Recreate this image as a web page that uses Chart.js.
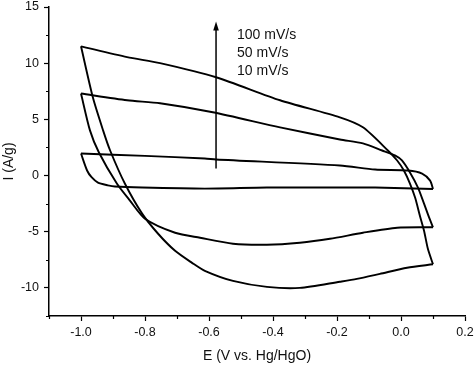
<!DOCTYPE html>
<html>
<head>
<meta charset="utf-8">
<script src="https://cdn.jsdelivr.net/npm/chart.js@4/dist/chart.umd.min.js"></script>
<style>
  html, body { margin: 0; padding: 0; background: #fff; }
  #wrap { width: 474px; height: 366px; }
</style>
</head>
<body>
<div id="wrap"><canvas id="c" width="474" height="366"></canvas></div>
<script>
// ---- Data ----
// 100 mV/s loop
const potUp100  = [-1.0, -0.856, -0.753, -0.578, -0.378, -0.191, -0.119, -0.041, -0.012, 0.009, 0.028, 0.044, 0.059, 0.072, 0.084, 0.1];
const curUp100  = [11.5, 10.54, 10.0, 8.75, 6.70, 5.18, 4.29, 2.23, 1.34, 0.45, -0.71, -1.96, -3.57, -4.91, -6.52, -7.9];
const potDown100 = [0.1, 0.019, -0.066, -0.138, -0.191, -0.316, -0.419, -0.525, -0.613, -0.653, -0.706, -0.759, -0.809, -0.863, -0.909, -0.931, -0.963, -1.0];
const curDown100 = [-7.9, -8.21, -8.75, -9.2, -9.45, -10.0, -9.91, -9.38, -8.48, -7.77, -6.7, -5.18, -3.39, -0.71, 2.23, 4.02, 6.96, 11.5];
// 50 mV/s loop
const potUp50  = [-1.0, -0.856, -0.753, -0.588, -0.378, -0.191, -0.119, -0.059, -0.019, 0.003, 0.028, 0.053, 0.072, 0.088, 0.1];
const curUp50  = [7.3, 6.70, 6.43, 5.63, 4.29, 3.21, 2.86, 2.23, 1.79, 1.34, 0.27, -1.07, -2.5, -3.75, -4.6];
const potDown50 = [0.1, -0.012, -0.119, -0.222, -0.316, -0.419, -0.525, -0.628, -0.706, -0.8, -0.847, -0.888, -0.944, -0.972, -1.0];
const curDown50 = [-4.6, -4.64, -5.09, -5.63, -5.98, -6.16, -6.07, -5.54, -5.09, -3.84, -2.23, -0.71, 2.05, 4.02, 7.3];
// 10 mV/s loop
const potUp10  = [-1.0, -0.8, -0.613, -0.578, -0.191, -0.081, 0.022, 0.066, 0.091, 0.1];
const curUp10  = [1.96, 1.75, 1.52, 1.43, 0.89, 0.54, 0.45, 0.18, -0.45, -1.2];
const potDown10 = [0.1, -0.081, -0.191, -0.419, -0.613, -0.809, -0.894, -0.916, -0.947, -0.967, -0.981, -1.0];
const curDown10 = [-1.2, -1.07, -1.07, -1.07, -1.16, -1.07, -0.98, -0.87, -0.63, -0.15, 0.45, 1.96];

const xTicks = [-1.0, -0.8, -0.6, -0.4, -0.2, 0.0, 0.2];
const yTicks = [-10, -5, 0, 5, 10, 15];
const xMinorTicks = [-1.1, -0.9, -0.7, -0.5, -0.3, -0.1, 0.1];
const yMinorTicks = [-12.5, -7.5, -2.5, 2.5, 7.5, 12.5];
const rateLabels = ['100 mV/s', '50 mV/s', '10 mV/s'];
const xTitle = 'E (V vs. Hg/HgO)';
const yTitle = 'I (A/g)';

// ---- Build datasets ----
function pts(xs, ys) { return xs.map((x, i) => ({ x: x, y: ys[i] })); }
const branches = [
  [potUp100, curUp100], [potDown100, curDown100],
  [potUp50, curUp50], [potDown50, curDown50],
  [potUp10, curUp10], [potDown10, curDown10]
];
const datasets = branches.map(b => ({
  data: pts(b[0], b[1]),
  showLine: true,
  borderColor: '#000',
  borderWidth: 1.9,
  pointRadius: 0,
  tension: 0.25,
  fill: false
}));

const FONT = "'Liberation Sans', Arial, sans-serif";

const decorPlugin = {
  id: 'decor',
  afterDraw(chart) {
    const ctx = chart.ctx;
    const xs = chart.scales.x, ys = chart.scales.y;
    ctx.save();
    ctx.strokeStyle = '#000';
    ctx.lineWidth = 1.2;
    // minor ticks
    ctx.beginPath();
    xMinorTicks.forEach(v => {
      const px = Math.round(xs.getPixelForValue(v)) + 0.5;
      ctx.moveTo(px, ys.bottom);
      ctx.lineTo(px, ys.bottom + 3);
    });
    yMinorTicks.forEach(v => {
      const py = Math.round(ys.getPixelForValue(v)) + 0.5;
      ctx.moveTo(xs.left, py);
      ctx.lineTo(xs.left - 3, py);
    });
    ctx.stroke();
    // arrow
    const ax = xs.getPixelForValue(-0.578);
    const ay0 = ys.getPixelForValue(0.62);
    const ay1 = ys.getPixelForValue(13.7);
    ctx.lineWidth = 1.5;
    ctx.beginPath();
    ctx.moveTo(ax, ay0);
    ctx.lineTo(ax, ay1 + 6);
    ctx.stroke();
    ctx.fillStyle = '#000';
    ctx.beginPath();
    ctx.moveTo(ax, ay1);
    ctx.lineTo(ax - 2.8, ay1 + 9);
    ctx.lineTo(ax + 2.8, ay1 + 9);
    ctx.closePath();
    ctx.fill();
    // rate labels
    ctx.font = '14px ' + FONT;
    ctx.fillStyle = '#111';
    ctx.textAlign = 'left';
    ctx.textBaseline = 'alphabetic';
    const lx = ax + 21;
    rateLabels.forEach((t, i) => {
      ctx.fillText(t, lx, 39 + i * 18);
    });
    ctx.restore();
  }
};

function noPad(s) { s.paddingTop = 0; s.paddingBottom = 0; s.paddingLeft = 0; s.paddingRight = 0; }

new Chart(document.getElementById('c'), {
  type: 'scatter',
  data: { datasets: datasets },
  options: {
    responsive: false,
    animation: false,
    devicePixelRatio: 1,
    layout: { padding: { top: 7, right: 9, left: 0, bottom: 0 } },
    plugins: { legend: { display: false }, tooltip: { enabled: false } },
    scales: {
      x: {
        type: 'linear',
        min: -1.1, max: 0.2,
        afterBuildTicks: s => { s.ticks = xTicks.map(v => ({ value: v })); },
        afterFit: s => { s.height = 50; noPad(s); },
        grid: { display: true, drawOnChartArea: false, drawTicks: true, tickLength: 5, tickColor: '#000', tickWidth: 1.2 },
        border: { display: true, color: '#000', width: 1.5 },
        ticks: {
          color: '#111', padding: 4, maxRotation: 0, autoSkip: false,
          font: { family: FONT, size: 12.5 },
          callback: v => Number(v).toFixed(1)
        },
        title: { display: true, text: xTitle, color: '#111', font: { family: FONT, size: 14 }, padding: { top: 0, bottom: 1 } }
      },
      y: {
        type: 'linear',
        min: -12.5, max: 15,
        afterBuildTicks: s => { s.ticks = yTicks.map(v => ({ value: v })); },
        afterFit: s => { s.width = 49; noPad(s); },
        grid: { display: true, drawOnChartArea: false, drawTicks: true, tickLength: 5, tickColor: '#000', tickWidth: 1.2 },
        border: { display: true, color: '#000', width: 1.5 },
        ticks: {
          color: '#111', padding: 5, autoSkip: false,
          font: { family: FONT, size: 12.5 },
          callback: v => String(v)
        },
        title: { display: true, text: yTitle, color: '#111', font: { family: FONT, size: 14 }, padding: { top: 1, bottom: 0 } }
      }
    }
  },
  plugins: [decorPlugin]
});
</script>
</body>
</html>
